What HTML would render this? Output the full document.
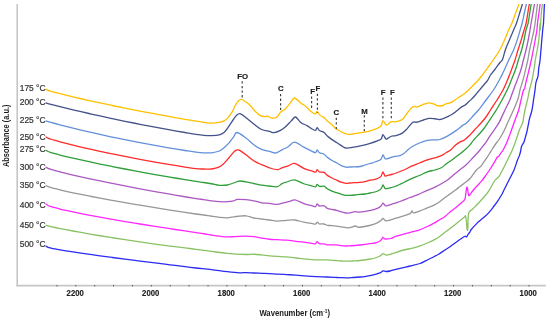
<!DOCTYPE html><html><head><meta charset="utf-8"><style>html,body{margin:0;padding:0;background:#fff;}svg{display:block;}</style></head><body>
<svg width="550" height="320" viewBox="0 0 550 320">
<rect width="550" height="320" fill="#fff"/>
<line x1="17.2" y1="4" x2="17.2" y2="286.2" stroke="#c6c6c6" stroke-width="1.6"/>
<line x1="16.4" y1="285.6" x2="546" y2="285.6" stroke="#c6c6c6" stroke-width="1.6"/>
<rect x="56.41" y="285" width="1" height="1.4" fill="#555"/><rect x="75.30" y="285" width="1" height="1.4" fill="#555"/><rect x="94.19" y="285" width="1" height="1.4" fill="#555"/><rect x="113.07" y="285" width="1" height="1.4" fill="#555"/><rect x="131.96" y="285" width="1" height="1.4" fill="#555"/><rect x="150.85" y="285" width="1" height="1.4" fill="#555"/><rect x="169.74" y="285" width="1" height="1.4" fill="#555"/><rect x="188.62" y="285" width="1" height="1.4" fill="#555"/><rect x="207.51" y="285" width="1" height="1.4" fill="#555"/><rect x="226.40" y="285" width="1" height="1.4" fill="#555"/><rect x="245.29" y="285" width="1" height="1.4" fill="#555"/><rect x="264.18" y="285" width="1" height="1.4" fill="#555"/><rect x="283.06" y="285" width="1" height="1.4" fill="#555"/><rect x="301.95" y="285" width="1" height="1.4" fill="#555"/><rect x="320.84" y="285" width="1" height="1.4" fill="#555"/><rect x="339.73" y="285" width="1" height="1.4" fill="#555"/><rect x="358.61" y="285" width="1" height="1.4" fill="#555"/><rect x="377.50" y="285" width="1" height="1.4" fill="#555"/><rect x="396.39" y="285" width="1" height="1.4" fill="#555"/><rect x="415.27" y="285" width="1" height="1.4" fill="#555"/><rect x="434.16" y="285" width="1" height="1.4" fill="#555"/><rect x="453.05" y="285" width="1" height="1.4" fill="#555"/><rect x="471.94" y="285" width="1" height="1.4" fill="#555"/><rect x="490.82" y="285" width="1" height="1.4" fill="#555"/><rect x="509.71" y="285" width="1" height="1.4" fill="#555"/><rect x="528.60" y="285" width="1" height="1.4" fill="#555"/>
<defs><clipPath id="pc"><rect x="0" y="4" width="550" height="290"/></clipPath></defs>
<g clip-path="url(#pc)" fill="none" stroke-width="1.30" stroke-linejoin="round" stroke-linecap="round">
<path d="M46.00,246.23 C46.33,246.41 47.17,246.98 48.00,247.29 C48.83,247.60 49.83,247.80 51.00,248.07 C52.17,248.34 53.50,248.62 55.00,248.92 C56.50,249.21 58.17,249.52 60.00,249.84 C61.83,250.16 63.83,250.51 66.00,250.86 C68.17,251.21 70.50,251.58 73.00,251.96 C75.50,252.34 78.17,252.75 81.00,253.16 C83.83,253.57 86.83,254.00 90.00,254.45 C93.17,254.89 96.33,255.33 100.00,255.83 C103.67,256.33 107.83,256.90 112.00,257.45 C116.17,258.00 120.33,258.54 125.00,259.15 C129.67,259.75 135.00,260.44 140.00,261.08 C145.00,261.72 150.00,262.35 155.00,262.97 C160.00,263.60 165.00,264.21 170.00,264.83 C175.00,265.45 180.67,266.14 185.00,266.67 C189.33,267.20 191.57,267.50 196.00,268.01 C200.43,268.51 206.38,269.08 211.60,269.70 C216.82,270.31 222.60,271.18 227.30,271.70 C232.00,272.22 236.68,272.65 239.80,272.80 C242.92,272.95 243.67,272.57 246.00,272.60 C248.33,272.63 251.20,272.88 253.80,273.00 C256.40,273.12 259.00,273.20 261.60,273.30 C264.20,273.40 266.78,273.47 269.40,273.60 C272.02,273.73 274.43,273.93 277.30,274.10 C280.17,274.27 283.48,274.42 286.60,274.60 C289.72,274.78 291.83,274.92 296.00,275.20 C300.17,275.48 306.38,276.00 311.60,276.30 C316.82,276.60 323.40,276.82 327.30,277.00 C331.20,277.18 332.72,277.28 335.00,277.40 C337.28,277.52 339.00,277.63 341.00,277.70 C343.00,277.77 345.00,277.83 347.00,277.80 C349.00,277.77 350.83,277.63 353.00,277.50 C355.17,277.37 357.83,277.20 360.00,277.00 C362.17,276.80 364.33,276.53 366.00,276.30 C367.67,276.07 367.67,276.18 370.00,275.60 C372.33,275.02 377.83,273.60 380.00,272.80 C382.17,272.00 382.00,271.02 383.00,270.80 C384.00,270.58 384.83,271.47 386.00,271.50 C387.17,271.53 387.67,271.53 390.00,271.00 C392.33,270.47 396.67,269.13 400.00,268.30 C403.33,267.47 406.67,266.80 410.00,266.00 C413.33,265.20 417.33,264.40 420.00,263.50 C422.67,262.60 423.92,261.60 426.00,260.60 C428.08,259.60 430.33,258.60 432.50,257.50 C434.67,256.40 436.92,255.25 439.00,254.00 C441.08,252.75 443.00,251.33 445.00,250.00 C447.00,248.67 448.92,247.46 451.00,246.00 C453.08,244.54 455.83,242.45 457.50,241.25 C459.17,240.05 459.75,239.63 461.00,238.80 C462.25,237.97 464.07,236.55 465.00,236.25 C465.93,235.95 466.10,237.29 466.60,237.00 C467.10,236.71 467.43,235.35 468.00,234.50 C468.57,233.65 469.46,232.73 470.00,231.90 C470.54,231.07 470.10,230.92 471.25,229.50 C472.40,228.08 475.27,225.02 476.90,223.40 C478.52,221.78 479.53,221.07 481.00,219.80 C482.47,218.53 484.28,217.13 485.70,215.80 C487.12,214.47 488.23,213.27 489.50,211.80 C490.77,210.33 491.97,208.75 493.30,207.00 C494.63,205.25 496.13,203.30 497.50,201.30 C498.87,199.30 500.42,196.88 501.50,195.00 C502.58,193.12 502.75,192.50 504.00,190.00 C505.25,187.50 507.33,183.33 509.00,180.00 C510.67,176.67 512.58,173.35 514.00,170.00 C515.42,166.65 516.60,162.30 517.50,159.90 C518.40,157.50 518.88,157.04 519.40,155.60 C519.92,154.16 520.23,152.81 520.60,151.25 C520.97,149.69 521.03,147.81 521.60,146.25 C522.17,144.69 523.38,143.38 524.00,141.90 C524.62,140.43 524.82,139.09 525.30,137.40 C525.78,135.71 526.38,133.94 526.90,131.75 C527.42,129.56 527.95,126.49 528.40,124.25 C528.85,122.01 529.00,120.67 529.60,118.30 C530.20,115.92 531.33,113.15 532.00,110.00 C532.67,106.85 533.18,102.11 533.60,99.40 C534.02,96.69 534.25,95.42 534.50,93.75 C534.75,92.08 534.89,91.07 535.10,89.40 C535.31,87.73 535.48,85.32 535.75,83.75 C536.02,82.18 536.46,80.83 536.70,80.00 C536.94,79.17 536.97,79.48 537.20,78.75 C537.43,78.02 537.84,77.38 538.10,75.60 C538.36,73.82 538.43,70.60 538.75,68.10 C539.07,65.60 539.49,65.28 540.00,60.60 C540.51,55.92 541.35,45.10 541.80,40.00 C542.25,34.90 542.42,32.79 542.70,30.00 C542.98,27.21 543.29,25.92 543.50,23.25 C543.71,20.58 543.79,17.12 543.94,14.00 C544.09,10.88 544.30,6.50 544.40,4.50 C544.50,2.50 544.50,2.42 544.52,2.00" stroke="#2B2BF2"/>
<path d="M46.00,225.19 C46.33,225.31 47.17,225.66 48.00,225.90 C48.83,226.14 49.83,226.36 51.00,226.62 C52.17,226.88 53.50,227.17 55.00,227.49 C56.50,227.81 58.17,228.15 60.00,228.52 C61.83,228.89 63.83,229.28 66.00,229.70 C68.17,230.11 70.50,230.55 73.00,231.01 C75.50,231.47 78.17,231.96 81.00,232.47 C83.83,232.98 86.83,233.50 90.00,234.05 C93.17,234.60 96.33,235.13 100.00,235.74 C103.67,236.35 107.83,237.03 112.00,237.69 C116.17,238.35 120.33,239.00 125.00,239.71 C129.67,240.42 135.00,241.22 140.00,241.94 C145.00,242.66 150.00,243.37 155.00,244.05 C160.00,244.74 165.00,245.40 170.00,246.05 C175.00,246.70 180.67,247.40 185.00,247.94 C189.33,248.48 191.57,248.69 196.00,249.27 C200.43,249.85 206.38,250.71 211.60,251.40 C216.82,252.09 221.57,252.88 227.30,253.40 C233.03,253.92 241.58,254.36 246.00,254.50 C250.42,254.64 251.20,254.18 253.80,254.25 C256.40,254.32 259.00,254.64 261.60,254.90 C264.20,255.16 266.78,255.55 269.40,255.80 C272.02,256.05 274.43,256.22 277.30,256.40 C280.17,256.58 283.48,256.63 286.60,256.90 C289.72,257.17 291.83,257.55 296.00,258.00 C300.17,258.45 306.38,259.28 311.60,259.60 C316.82,259.92 323.40,259.75 327.30,259.90 C331.20,260.05 332.72,260.32 335.00,260.50 C337.28,260.68 339.00,260.88 341.00,261.00 C343.00,261.12 345.00,261.20 347.00,261.20 C349.00,261.20 350.83,261.12 353.00,261.00 C355.17,260.88 357.17,260.83 360.00,260.50 C362.83,260.17 367.50,259.42 370.00,259.00 C372.50,258.58 373.33,258.50 375.00,258.00 C376.67,257.50 378.67,256.73 380.00,256.00 C381.33,255.27 382.00,253.77 383.00,253.60 C384.00,253.43 384.83,254.87 386.00,255.00 C387.17,255.13 387.03,255.23 390.00,254.40 C392.97,253.57 400.20,251.00 403.80,250.00 C407.40,249.00 409.00,249.05 411.60,248.40 C414.20,247.75 416.78,247.00 419.40,246.10 C422.02,245.20 424.70,244.12 427.30,243.00 C429.90,241.88 432.88,240.53 435.00,239.40 C437.12,238.27 438.17,237.50 440.00,236.20 C441.83,234.90 444.67,232.63 446.00,231.60 C447.33,230.57 446.40,231.23 448.00,230.00 C449.60,228.77 453.60,225.78 455.60,224.20 C457.60,222.62 458.52,221.70 460.00,220.50 C461.48,219.30 463.58,217.75 464.50,217.00 C465.42,216.25 465.17,215.17 465.50,216.00 C465.83,216.83 466.25,219.83 466.50,222.00 C466.75,224.17 466.78,227.83 467.00,229.00 C467.22,230.17 467.53,231.60 467.80,229.00 C468.07,226.40 467.82,216.70 468.60,213.40 C469.38,210.10 471.12,210.63 472.50,209.20 C473.88,207.77 475.43,206.33 476.90,204.80 C478.37,203.27 479.83,201.63 481.30,200.00 C482.77,198.37 484.33,196.70 485.70,195.00 C487.07,193.30 488.03,192.13 489.50,189.80 C490.97,187.47 493.25,182.92 494.50,181.00 C495.75,179.08 496.18,179.17 497.00,178.30 C497.82,177.43 498.48,177.18 499.40,175.80 C500.32,174.42 501.47,171.97 502.50,170.00 C503.53,168.03 504.52,166.17 505.60,164.00 C506.68,161.83 507.88,159.33 509.00,157.00 C510.12,154.67 511.30,152.32 512.30,150.00 C513.30,147.68 514.28,145.02 515.00,143.10 C515.72,141.18 515.87,140.70 516.60,138.50 C517.33,136.30 518.52,132.22 519.40,129.90 C520.28,127.58 521.28,126.08 521.90,124.60 C522.52,123.12 522.82,122.20 523.10,121.00 C523.38,119.80 523.27,119.36 523.60,117.40 C523.93,115.44 524.58,111.65 525.10,109.25 C525.62,106.85 526.23,104.88 526.70,103.00 C527.17,101.12 527.43,100.17 527.90,98.00 C528.37,95.83 528.78,93.10 529.50,90.00 C530.22,86.90 531.55,82.32 532.20,79.40 C532.85,76.48 532.98,74.90 533.40,72.50 C533.82,70.10 534.38,67.08 534.70,65.00 C535.02,62.92 534.88,62.50 535.30,60.00 C535.72,57.50 536.62,53.33 537.20,50.00 C537.78,46.67 538.32,44.46 538.80,40.00 C539.28,35.54 539.85,24.92 540.10,23.25 C540.35,21.58 540.11,31.54 540.30,30.00 C540.49,28.46 540.88,18.25 541.23,14.00 C541.58,9.75 542.15,6.50 542.40,4.50 C542.65,2.50 542.66,2.42 542.71,2.00" stroke="#8AC263"/>
<path d="M46.00,204.02 C46.33,204.26 47.17,205.06 48.00,205.48 C48.83,205.90 49.83,206.19 51.00,206.57 C52.17,206.95 53.50,207.33 55.00,207.74 C56.50,208.15 58.17,208.57 60.00,209.02 C61.83,209.47 63.83,209.94 66.00,210.42 C68.17,210.90 70.50,211.41 73.00,211.93 C75.50,212.45 78.17,213.00 81.00,213.56 C83.83,214.12 86.83,214.70 90.00,215.30 C93.17,215.90 96.33,216.49 100.00,217.15 C103.67,217.81 107.83,218.56 112.00,219.29 C116.17,220.02 120.33,220.74 125.00,221.52 C129.67,222.31 135.00,223.19 140.00,224.00 C145.00,224.81 150.00,225.61 155.00,226.40 C160.00,227.19 165.00,227.96 170.00,228.72 C175.00,229.48 180.67,230.33 185.00,230.98 C189.33,231.62 192.87,232.13 196.00,232.59 C199.13,233.05 201.20,233.35 203.80,233.75 C206.40,234.15 209.00,234.61 211.60,235.00 C214.20,235.39 216.78,235.78 219.40,236.10 C222.02,236.42 224.70,236.82 227.30,236.90 C229.90,236.98 231.88,236.73 235.00,236.60 C238.12,236.47 242.87,236.10 246.00,236.10 C249.13,236.10 251.20,236.25 253.80,236.60 C256.40,236.95 259.00,237.76 261.60,238.20 C264.20,238.64 266.78,239.00 269.40,239.25 C272.02,239.50 274.43,239.54 277.30,239.70 C280.17,239.86 283.48,239.93 286.60,240.20 C289.72,240.47 293.13,240.97 296.00,241.30 C298.87,241.63 301.20,241.85 303.80,242.20 C306.40,242.55 309.65,243.13 311.60,243.40 C313.55,243.67 314.58,244.08 315.50,243.80 C316.42,243.52 316.45,241.73 317.10,241.70 C317.75,241.67 318.23,243.23 319.40,243.60 C320.57,243.97 322.78,243.70 324.10,243.90 C325.42,244.10 325.22,244.63 327.30,244.80 C329.38,244.97 334.27,244.75 336.60,244.90 C338.93,245.05 339.73,245.52 341.30,245.70 C342.87,245.88 344.55,245.98 346.00,246.00 C347.45,246.02 348.50,245.88 350.00,245.80 C351.50,245.72 353.33,245.63 355.00,245.50 C356.67,245.37 357.50,245.32 360.00,245.00 C362.50,244.68 367.50,243.93 370.00,243.60 C372.50,243.27 373.33,243.43 375.00,243.00 C376.67,242.57 378.92,241.58 380.00,241.00 C381.08,240.42 381.00,240.10 381.50,239.50 C382.00,238.90 382.42,237.48 383.00,237.40 C383.58,237.32 384.33,238.73 385.00,239.00 C385.67,239.27 386.00,239.08 387.00,239.00 C388.00,238.92 389.67,238.90 391.00,238.50 C392.33,238.10 393.50,237.15 395.00,236.60 C396.50,236.05 398.33,235.67 400.00,235.20 C401.67,234.73 403.23,234.28 405.00,233.80 C406.77,233.32 408.37,232.87 410.60,232.30 C412.83,231.73 415.79,231.28 418.40,230.40 C421.01,229.52 423.65,228.22 426.25,227.00 C428.85,225.78 431.71,224.35 434.00,223.10 C436.29,221.85 438.17,220.60 440.00,219.50 C441.83,218.40 443.33,217.75 445.00,216.50 C446.67,215.25 448.23,213.45 450.00,212.00 C451.77,210.55 453.93,209.13 455.60,207.80 C457.27,206.47 458.52,205.33 460.00,204.00 C461.48,202.67 463.58,201.13 464.50,199.80 C465.42,198.47 465.17,197.88 465.50,196.00 C465.83,194.12 466.20,189.90 466.50,188.50 C466.80,187.10 467.05,187.02 467.30,187.60 C467.55,188.18 467.77,190.68 468.00,192.00 C468.23,193.32 468.37,195.08 468.70,195.50 C469.03,195.92 469.22,195.42 470.00,194.50 C470.78,193.58 472.23,191.42 473.40,190.00 C474.57,188.58 475.69,187.43 477.00,186.00 C478.31,184.57 479.92,182.98 481.25,181.40 C482.58,179.82 483.62,178.40 485.00,176.50 C486.38,174.60 488.17,172.00 489.50,170.00 C490.83,168.00 492.25,165.70 493.00,164.50 C493.75,163.30 493.50,163.65 494.00,162.80 C494.50,161.95 495.52,160.28 496.00,159.40 C496.48,158.52 496.44,158.03 496.90,157.50 C497.36,156.97 498.02,157.08 498.75,156.25 C499.48,155.42 500.52,153.54 501.25,152.50 C501.98,151.46 502.27,151.46 503.10,150.00 C503.93,148.54 505.47,145.42 506.25,143.75 C507.03,142.08 506.93,142.29 507.80,140.00 C508.68,137.71 510.30,133.33 511.50,130.00 C512.70,126.67 513.80,123.33 515.00,120.00 C516.20,116.67 517.70,113.33 518.70,110.00 C519.70,106.67 520.20,103.33 521.00,100.00 C521.80,96.67 522.92,91.83 523.50,90.00 C524.08,88.17 524.18,89.83 524.50,89.00 C524.82,88.17 525.07,86.50 525.40,85.00 C525.73,83.50 525.90,82.50 526.50,80.00 C527.10,77.50 528.20,73.33 529.00,70.00 C529.80,66.67 530.58,63.33 531.30,60.00 C532.02,56.67 532.65,53.33 533.30,50.00 C533.95,46.67 534.60,43.33 535.20,40.00 C535.80,36.67 536.52,32.79 536.90,30.00 C537.28,27.21 537.19,25.92 537.50,23.25 C537.81,20.58 538.35,17.12 538.78,14.00 C539.21,10.88 539.82,6.50 540.10,4.50 C540.38,2.50 540.39,2.42 540.45,2.00" stroke="#FF26FF"/>
<path d="M46.00,185.57 C46.33,185.76 47.17,186.34 48.00,186.69 C48.83,187.03 49.83,187.30 51.00,187.64 C52.17,187.98 53.50,188.33 55.00,188.71 C56.50,189.09 58.17,189.50 60.00,189.93 C61.83,190.36 63.83,190.81 66.00,191.29 C68.17,191.77 70.50,192.26 73.00,192.79 C75.50,193.31 78.17,193.87 81.00,194.44 C83.83,195.01 86.83,195.61 90.00,196.22 C93.17,196.83 96.33,197.44 100.00,198.12 C103.67,198.81 107.83,199.58 112.00,200.33 C116.17,201.08 120.33,201.82 125.00,202.63 C129.67,203.44 135.00,204.35 140.00,205.19 C145.00,206.03 150.00,206.86 155.00,207.67 C160.00,208.48 165.00,209.27 170.00,210.05 C175.00,210.83 180.67,211.70 185.00,212.36 C189.33,213.02 192.87,213.56 196.00,214.00 C199.13,214.44 201.20,214.62 203.80,215.00 C206.40,215.38 209.00,215.87 211.60,216.25 C214.20,216.63 216.78,217.04 219.40,217.30 C222.02,217.56 224.95,217.87 227.30,217.80 C229.65,217.73 231.68,217.16 233.50,216.90 C235.32,216.64 236.12,216.43 238.20,216.25 C240.28,216.07 243.40,215.51 246.00,215.80 C248.60,216.09 251.20,217.47 253.80,218.00 C256.40,218.53 259.00,218.67 261.60,219.00 C264.20,219.33 266.78,219.65 269.40,220.00 C272.02,220.35 274.43,221.05 277.30,221.10 C280.17,221.15 283.65,220.48 286.60,220.30 C289.55,220.12 292.13,219.68 295.00,220.00 C297.87,220.32 301.03,221.63 303.80,222.20 C306.57,222.77 309.65,223.10 311.60,223.40 C313.55,223.70 314.58,224.20 315.50,224.00 C316.42,223.80 316.45,222.20 317.10,222.20 C317.75,222.20 318.58,223.73 319.40,224.00 C320.22,224.27 321.22,223.80 322.00,223.80 C322.78,223.80 323.22,223.75 324.10,224.00 C324.98,224.25 325.98,225.03 327.30,225.30 C328.62,225.57 330.45,225.47 332.00,225.60 C333.55,225.73 335.05,225.88 336.60,226.10 C338.15,226.32 339.73,226.63 341.30,226.90 C342.87,227.17 344.55,227.58 346.00,227.70 C347.45,227.82 348.43,227.88 350.00,227.60 C351.57,227.32 354.07,226.07 355.40,226.00 C356.73,225.93 356.97,227.03 358.00,227.20 C359.03,227.37 359.70,227.28 361.60,227.00 C363.50,226.72 366.78,226.20 369.40,225.50 C372.02,224.80 375.37,223.63 377.30,222.80 C379.23,221.97 380.05,221.23 381.00,220.50 C381.95,219.77 382.20,218.35 383.00,218.40 C383.80,218.45 384.42,220.58 385.80,220.80 C387.18,221.02 389.60,220.15 391.30,219.70 C393.00,219.25 394.08,218.70 396.00,218.10 C397.92,217.50 400.47,216.85 402.80,216.10 C405.13,215.35 408.63,214.20 410.00,213.60 C411.37,213.00 410.63,212.97 411.00,212.50 C411.37,212.03 411.78,210.75 412.20,210.80 C412.62,210.85 412.20,212.80 413.50,212.80 C414.80,212.80 417.88,211.55 420.00,210.80 C422.12,210.05 423.92,209.23 426.25,208.30 C428.58,207.37 431.71,206.33 434.00,205.20 C436.29,204.07 438.17,202.78 440.00,201.50 C441.83,200.22 443.33,198.75 445.00,197.50 C446.67,196.25 448.25,195.25 450.00,194.00 C451.75,192.75 453.83,191.25 455.50,190.00 C457.17,188.75 458.32,187.80 460.00,186.50 C461.68,185.20 463.93,183.53 465.60,182.20 C467.27,180.87 468.18,180.53 470.00,178.50 C471.82,176.47 474.62,172.12 476.50,170.00 C478.38,167.88 479.73,167.57 481.25,165.80 C482.77,164.03 484.24,161.41 485.60,159.40 C486.96,157.39 488.25,155.53 489.40,153.75 C490.55,151.97 491.47,150.38 492.50,148.75 C493.53,147.12 494.56,145.46 495.60,144.00 C496.64,142.54 497.60,141.71 498.75,140.00 C499.90,138.29 501.36,135.83 502.50,133.75 C503.64,131.67 504.77,129.28 505.60,127.50 C506.43,125.72 506.18,126.02 507.50,123.10 C508.82,120.18 511.71,114.18 513.50,110.00 C515.29,105.82 517.17,101.33 518.25,98.00 C519.33,94.67 519.21,93.00 520.00,90.00 C520.79,87.00 522.08,83.33 523.00,80.00 C523.92,76.67 524.70,73.33 525.50,70.00 C526.30,66.67 527.12,63.33 527.80,60.00 C528.48,56.67 528.93,53.33 529.60,50.00 C530.27,46.67 531.07,43.33 531.80,40.00 C532.53,36.67 533.45,32.79 534.00,30.00 C534.55,27.21 534.73,25.92 535.10,23.25 C535.47,20.58 535.85,17.12 536.23,14.00 C536.61,10.88 537.15,6.50 537.40,4.50 C537.65,2.50 537.66,2.42 537.71,2.00" stroke="#979797"/>
<path d="M46.00,167.19 C46.33,167.39 47.17,168.00 48.00,168.37 C48.83,168.74 49.83,169.02 51.00,169.38 C52.17,169.74 53.50,170.13 55.00,170.55 C56.50,170.97 58.17,171.41 60.00,171.88 C61.83,172.35 63.83,172.85 66.00,173.38 C68.17,173.91 70.50,174.46 73.00,175.04 C75.50,175.62 78.17,176.22 81.00,176.85 C83.83,177.48 86.83,178.14 90.00,178.82 C93.17,179.50 96.33,180.18 100.00,180.94 C103.67,181.70 107.83,182.55 112.00,183.39 C116.17,184.22 120.33,185.05 125.00,185.95 C129.67,186.85 135.00,187.87 140.00,188.80 C145.00,189.73 150.00,190.65 155.00,191.55 C160.00,192.45 165.00,193.33 170.00,194.20 C175.00,195.07 180.67,196.03 185.00,196.76 C189.33,197.49 192.87,198.10 196.00,198.59 C199.13,199.08 201.20,199.31 203.80,199.70 C206.40,200.08 209.00,200.57 211.60,200.90 C214.20,201.23 216.78,201.57 219.40,201.70 C222.02,201.83 224.95,201.83 227.30,201.70 C229.65,201.57 231.82,201.28 233.50,200.90 C235.18,200.52 235.32,199.60 237.40,199.40 C239.48,199.20 243.27,199.47 246.00,199.70 C248.73,199.93 251.20,200.28 253.80,200.80 C256.40,201.32 259.00,202.37 261.60,202.80 C264.20,203.23 266.78,203.13 269.40,203.40 C272.02,203.67 274.95,204.50 277.30,204.40 C279.65,204.30 281.42,203.32 283.50,202.80 C285.58,202.28 287.88,201.78 289.80,201.30 C291.72,200.82 292.67,199.52 295.00,199.90 C297.33,200.28 301.03,202.65 303.80,203.60 C306.57,204.55 309.65,205.08 311.60,205.60 C313.55,206.12 314.58,206.97 315.50,206.70 C316.42,206.43 316.45,204.12 317.10,204.00 C317.75,203.88 318.23,205.70 319.40,206.00 C320.57,206.30 322.78,205.42 324.10,205.80 C325.42,206.18 325.98,207.70 327.30,208.30 C328.62,208.90 330.45,209.07 332.00,209.40 C333.55,209.73 335.05,209.88 336.60,210.30 C338.15,210.72 339.73,211.45 341.30,211.90 C342.87,212.35 344.55,212.85 346.00,213.00 C347.45,213.15 348.43,213.03 350.00,212.80 C351.57,212.57 354.07,211.70 355.40,211.60 C356.73,211.50 356.97,212.15 358.00,212.20 C359.03,212.25 359.70,212.17 361.60,211.90 C363.50,211.63 366.78,211.20 369.40,210.60 C372.02,210.00 375.37,209.07 377.30,208.30 C379.23,207.53 380.05,206.87 381.00,206.00 C381.95,205.13 382.20,203.12 383.00,203.10 C383.80,203.08 384.42,205.68 385.80,205.90 C387.18,206.12 389.60,204.92 391.30,204.40 C393.00,203.88 394.55,203.28 396.00,202.80 C397.45,202.32 398.55,202.02 400.00,201.50 C401.45,200.98 403.03,200.37 404.70,199.70 C406.37,199.03 407.80,198.33 410.00,197.50 C412.20,196.67 415.02,195.90 417.90,194.70 C420.78,193.50 424.45,191.55 427.30,190.30 C430.15,189.05 431.88,188.75 435.00,187.20 C438.12,185.65 443.50,182.53 446.00,181.00 C448.50,179.47 447.75,179.83 450.00,178.00 C452.25,176.17 456.83,172.17 459.50,170.00 C462.17,167.83 463.68,167.13 466.00,165.00 C468.32,162.87 471.07,159.70 473.40,157.20 C475.73,154.70 478.38,151.88 480.00,150.00 C481.62,148.12 482.06,147.25 483.10,145.90 C484.14,144.55 485.10,143.57 486.25,141.90 C487.40,140.23 488.86,137.62 490.00,135.90 C491.14,134.18 492.06,133.10 493.10,131.60 C494.14,130.10 495.20,128.52 496.25,126.90 C497.30,125.28 497.94,124.72 499.40,121.90 C500.86,119.08 503.27,113.65 505.00,110.00 C506.73,106.35 508.38,103.33 509.80,100.00 C511.22,96.67 512.22,93.43 513.50,90.00 C514.78,86.57 516.42,82.32 517.50,79.40 C518.58,76.48 519.27,74.69 520.00,72.50 C520.73,70.31 521.38,68.12 521.90,66.25 C522.42,64.38 522.42,63.96 523.10,61.25 C523.78,58.54 525.15,53.54 526.00,50.00 C526.85,46.46 527.53,43.33 528.20,40.00 C528.87,36.67 529.52,32.79 530.00,30.00 C530.48,27.21 530.64,25.92 531.10,23.25 C531.56,20.58 532.18,17.12 532.73,14.00 C533.28,10.88 534.05,6.50 534.40,4.50 C534.75,2.50 534.77,2.42 534.84,2.00" stroke="#AC58C2"/>
<path d="M46.00,150.31 C46.33,150.51 47.17,151.14 48.00,151.51 C48.83,151.88 49.83,152.16 51.00,152.53 C52.17,152.90 53.50,153.29 55.00,153.71 C56.50,154.13 58.17,154.57 60.00,155.04 C61.83,155.51 63.83,156.01 66.00,156.53 C68.17,157.05 70.50,157.60 73.00,158.18 C75.50,158.76 78.17,159.36 81.00,159.99 C83.83,160.62 86.83,161.27 90.00,161.95 C93.17,162.62 96.33,163.29 100.00,164.04 C103.67,164.79 107.83,165.64 112.00,166.47 C116.17,167.30 120.33,168.11 125.00,169.00 C129.67,169.89 135.00,170.89 140.00,171.81 C145.00,172.73 150.00,173.63 155.00,174.52 C160.00,175.41 165.00,176.28 170.00,177.13 C175.00,177.98 180.67,178.92 185.00,179.64 C189.33,180.36 192.87,180.95 196.00,181.43 C199.13,181.91 201.20,182.11 203.80,182.50 C206.40,182.89 209.00,183.28 211.60,183.75 C214.20,184.22 216.78,185.09 219.40,185.30 C222.02,185.51 224.95,185.38 227.30,185.00 C229.65,184.62 231.42,183.67 233.50,183.00 C235.58,182.33 237.72,181.18 239.80,181.00 C241.88,180.82 243.67,181.48 246.00,181.90 C248.33,182.32 251.20,182.95 253.80,183.50 C256.40,184.05 259.00,184.78 261.60,185.20 C264.20,185.62 266.78,185.75 269.40,186.00 C272.02,186.25 275.20,187.10 277.30,186.70 C279.40,186.30 280.45,184.38 282.00,183.60 C283.55,182.82 284.52,182.63 286.60,182.00 C288.68,181.37 291.63,179.51 294.50,179.80 C297.37,180.09 300.95,182.73 303.80,183.75 C306.65,184.77 309.65,185.38 311.60,185.90 C313.55,186.43 314.58,187.15 315.50,186.90 C316.42,186.65 316.45,184.48 317.10,184.40 C317.75,184.32 318.58,186.08 319.40,186.40 C320.22,186.72 321.22,186.33 322.00,186.30 C322.78,186.27 323.22,185.79 324.10,186.20 C324.98,186.61 325.98,187.93 327.30,188.75 C328.62,189.57 330.45,190.44 332.00,191.10 C333.55,191.76 335.05,192.18 336.60,192.70 C338.15,193.22 339.73,193.77 341.30,194.20 C342.87,194.63 344.55,195.10 346.00,195.30 C347.45,195.50 348.50,195.45 350.00,195.40 C351.50,195.35 353.33,195.17 355.00,195.00 C356.67,194.83 358.33,194.57 360.00,194.40 C361.67,194.23 363.33,194.23 365.00,194.00 C366.67,193.77 368.33,193.33 370.00,193.00 C371.67,192.67 373.33,192.53 375.00,192.00 C376.67,191.47 378.92,190.47 380.00,189.80 C381.08,189.13 381.00,188.80 381.50,188.00 C382.00,187.20 382.42,184.92 383.00,185.00 C383.58,185.08 384.33,187.90 385.00,188.50 C385.67,189.10 386.00,188.75 387.00,188.60 C388.00,188.45 389.67,187.95 391.00,187.60 C392.33,187.25 392.87,187.35 395.00,186.50 C397.13,185.65 401.03,183.82 403.80,182.50 C406.57,181.18 409.00,179.77 411.60,178.60 C414.20,177.43 416.78,176.62 419.40,175.50 C422.02,174.38 424.70,172.82 427.30,171.90 C429.90,170.98 432.67,170.70 435.00,170.00 C437.33,169.30 439.47,168.68 441.30,167.70 C443.13,166.72 444.55,165.17 446.00,164.10 C447.45,163.03 448.03,162.72 450.00,161.30 C451.97,159.88 455.30,157.52 457.80,155.60 C460.30,153.68 462.97,151.58 465.00,149.80 C467.03,148.02 468.60,146.48 470.00,144.90 C471.40,143.32 471.27,142.78 473.40,140.30 C475.53,137.82 480.20,133.22 482.80,130.00 C485.40,126.78 486.75,124.33 489.00,121.00 C491.25,117.67 494.13,113.50 496.30,110.00 C498.47,106.50 500.18,103.33 502.00,100.00 C503.82,96.67 505.60,93.43 507.20,90.00 C508.80,86.57 510.40,82.32 511.60,79.40 C512.80,76.48 513.57,74.69 514.40,72.50 C515.23,70.31 515.93,68.33 516.60,66.25 C517.27,64.17 517.57,62.71 518.40,60.00 C519.23,57.29 520.67,53.33 521.60,50.00 C522.53,46.67 523.27,43.33 524.00,40.00 C524.73,36.67 525.32,32.79 526.00,30.00 C526.68,27.21 527.50,25.92 528.10,23.25 C528.70,20.58 529.08,17.12 529.58,14.00 C530.08,10.88 530.78,6.50 531.10,4.50 C531.42,2.50 531.43,2.42 531.50,2.00" stroke="#2E9E3A"/>
<path d="M46.00,137.01 C46.33,137.21 47.17,137.82 48.00,138.19 C48.83,138.56 49.83,138.87 51.00,139.25 C52.17,139.63 53.50,140.03 55.00,140.47 C56.50,140.91 58.17,141.37 60.00,141.87 C61.83,142.37 63.83,142.90 66.00,143.45 C68.17,144.00 70.50,144.58 73.00,145.19 C75.50,145.80 78.17,146.44 81.00,147.10 C83.83,147.76 86.83,148.45 90.00,149.16 C93.17,149.87 96.33,150.56 100.00,151.35 C103.67,152.13 107.83,153.02 112.00,153.87 C116.17,154.72 120.33,155.56 125.00,156.47 C129.67,157.38 135.00,158.40 140.00,159.33 C145.00,160.26 150.00,161.16 155.00,162.04 C160.00,162.92 165.00,163.77 170.00,164.60 C175.00,165.43 180.67,166.34 185.00,167.03 C189.33,167.72 192.87,168.39 196.00,168.72 C199.13,169.05 201.20,168.95 203.80,169.00 C206.40,169.05 209.00,169.35 211.60,169.00 C214.20,168.65 217.33,167.83 219.40,166.90 C221.47,165.97 222.43,164.88 224.00,163.40 C225.57,161.92 227.22,159.83 228.80,158.00 C230.38,156.17 232.33,153.67 233.50,152.40 C234.67,151.13 235.05,150.82 235.80,150.40 C236.55,149.98 237.22,149.82 238.00,149.90 C238.78,149.98 239.17,150.08 240.50,150.90 C241.83,151.72 243.78,153.15 246.00,154.80 C248.22,156.45 251.20,159.15 253.80,160.80 C256.40,162.45 259.00,163.53 261.60,164.70 C264.20,165.87 266.78,166.97 269.40,167.80 C272.02,168.63 275.20,169.70 277.30,169.70 C279.40,169.70 280.18,168.43 282.00,167.80 C283.82,167.17 286.12,166.63 288.20,165.90 C290.28,165.17 291.90,163.00 294.50,163.40 C297.10,163.80 300.95,167.05 303.80,168.30 C306.65,169.55 309.65,170.25 311.60,170.90 C313.55,171.55 314.58,172.42 315.50,172.20 C316.42,171.98 316.45,169.63 317.10,169.60 C317.75,169.57 318.23,171.53 319.40,172.00 C320.57,172.47 322.78,171.83 324.10,172.40 C325.42,172.97 325.98,174.47 327.30,175.40 C328.62,176.33 330.45,177.22 332.00,178.00 C333.55,178.78 335.05,179.40 336.60,180.10 C338.15,180.80 339.73,181.67 341.30,182.20 C342.87,182.73 344.55,183.17 346.00,183.30 C347.45,183.43 348.50,183.12 350.00,183.00 C351.50,182.88 353.33,182.70 355.00,182.60 C356.67,182.50 358.33,182.57 360.00,182.40 C361.67,182.23 363.33,181.97 365.00,181.60 C366.67,181.23 368.33,180.57 370.00,180.20 C371.67,179.83 373.33,179.90 375.00,179.40 C376.67,178.90 378.92,177.85 380.00,177.20 C381.08,176.55 381.00,176.37 381.50,175.50 C382.00,174.63 382.42,171.92 383.00,172.00 C383.58,172.08 384.33,175.40 385.00,176.00 C385.67,176.60 386.00,175.85 387.00,175.60 C388.00,175.35 389.67,174.85 391.00,174.50 C392.33,174.15 392.87,174.25 395.00,173.50 C397.13,172.75 401.03,171.23 403.80,170.00 C406.57,168.77 409.00,167.27 411.60,166.10 C414.20,164.93 416.78,164.05 419.40,163.00 C422.02,161.95 424.70,160.67 427.30,159.80 C429.90,158.93 432.67,158.50 435.00,157.80 C437.33,157.10 439.47,156.43 441.30,155.60 C443.13,154.77 444.40,153.77 446.00,152.80 C447.60,151.83 449.30,151.12 450.90,149.80 C452.50,148.48 453.90,146.30 455.60,144.90 C457.30,143.50 459.80,142.12 461.10,141.40 C462.40,140.68 462.65,141.00 463.40,140.60 C464.15,140.20 464.50,139.93 465.60,139.00 C466.70,138.07 468.52,136.50 470.00,135.00 C471.48,133.50 472.62,132.03 474.50,130.00 C476.38,127.97 479.33,124.97 481.25,122.80 C483.17,120.63 484.46,119.13 486.00,117.00 C487.54,114.87 488.67,112.83 490.50,110.00 C492.33,107.17 494.92,103.33 497.00,100.00 C499.08,96.67 501.25,93.33 503.00,90.00 C504.75,86.67 506.10,83.33 507.50,80.00 C508.90,76.67 510.15,73.33 511.40,70.00 C512.65,66.67 513.90,63.33 515.00,60.00 C516.10,56.67 516.97,53.33 518.00,50.00 C519.03,46.67 520.18,43.33 521.20,40.00 C522.22,36.67 523.28,32.79 524.10,30.00 C524.92,27.21 525.51,25.92 526.10,23.25 C526.69,20.58 527.12,17.12 527.65,14.00 C528.17,10.88 528.91,6.50 529.25,4.50 C529.59,2.50 529.60,2.42 529.67,2.00" stroke="#FF2B2B"/>
<path d="M46.00,120.99 C46.33,121.09 47.17,121.36 48.00,121.60 C48.83,121.84 49.83,122.11 51.00,122.43 C52.17,122.75 53.50,123.11 55.00,123.50 C56.50,123.89 58.17,124.33 60.00,124.80 C61.83,125.27 63.83,125.79 66.00,126.34 C68.17,126.89 70.50,127.47 73.00,128.08 C75.50,128.69 78.17,129.35 81.00,130.02 C83.83,130.69 86.83,131.40 90.00,132.13 C93.17,132.86 96.33,133.59 100.00,134.41 C103.67,135.22 107.83,136.13 112.00,137.02 C116.17,137.91 120.33,138.78 125.00,139.73 C129.67,140.67 135.00,141.73 140.00,142.69 C145.00,143.65 150.00,144.56 155.00,145.46 C160.00,146.36 165.00,147.22 170.00,148.06 C175.00,148.90 180.67,149.81 185.00,150.49 C189.33,151.17 192.87,151.77 196.00,152.15 C199.13,152.53 201.20,152.69 203.80,152.80 C206.40,152.91 209.00,153.10 211.60,152.80 C214.20,152.50 217.33,151.83 219.40,151.00 C221.47,150.17 222.43,149.12 224.00,147.80 C225.57,146.48 227.60,144.40 228.80,143.10 C230.00,141.80 230.42,140.98 231.20,140.00 C231.98,139.02 232.53,138.45 233.50,137.20 C234.47,135.95 234.92,132.37 237.00,132.50 C239.08,132.63 243.20,135.97 246.00,138.00 C248.80,140.03 251.20,142.80 253.80,144.70 C256.40,146.60 259.00,148.28 261.60,149.40 C264.20,150.52 267.05,150.80 269.40,151.40 C271.75,152.00 273.60,153.27 275.70,153.00 C277.80,152.73 279.92,150.85 282.00,149.80 C284.08,148.75 286.12,147.97 288.20,146.70 C290.28,145.43 291.90,142.12 294.50,142.20 C297.10,142.28 300.95,145.72 303.80,147.20 C306.65,148.68 309.65,150.18 311.60,151.10 C313.55,152.02 314.58,152.88 315.50,152.70 C316.42,152.52 316.45,150.00 317.10,150.00 C317.75,150.00 318.23,152.00 319.40,152.70 C320.57,153.40 322.78,153.43 324.10,154.20 C325.42,154.97 325.98,156.25 327.30,157.30 C328.62,158.35 330.45,159.58 332.00,160.50 C333.55,161.42 335.05,161.95 336.60,162.80 C338.15,163.65 339.73,164.87 341.30,165.60 C342.87,166.33 344.55,166.97 346.00,167.20 C347.45,167.43 348.50,167.07 350.00,167.00 C351.50,166.93 353.33,166.88 355.00,166.80 C356.67,166.72 358.33,166.80 360.00,166.50 C361.67,166.20 363.33,165.50 365.00,165.00 C366.67,164.50 368.33,164.00 370.00,163.50 C371.67,163.00 373.33,162.58 375.00,162.00 C376.67,161.42 378.92,160.58 380.00,160.00 C381.08,159.42 381.00,159.33 381.50,158.50 C382.00,157.67 382.42,154.98 383.00,155.00 C383.58,155.02 384.33,157.97 385.00,158.60 C385.67,159.23 386.00,159.02 387.00,158.80 C388.00,158.58 389.67,157.72 391.00,157.30 C392.33,156.88 393.50,156.58 395.00,156.30 C396.50,156.02 398.53,156.05 400.00,155.60 C401.47,155.15 402.52,154.55 403.80,153.60 C405.08,152.65 406.40,151.00 407.70,149.90 C409.00,148.80 409.65,148.15 411.60,147.00 C413.55,145.85 416.78,144.12 419.40,143.00 C422.02,141.88 424.70,140.83 427.30,140.30 C429.90,139.77 432.88,139.93 435.00,139.80 C437.12,139.67 437.87,140.15 440.00,139.50 C442.13,138.85 445.20,137.33 447.80,135.90 C450.40,134.47 453.12,132.65 455.60,130.90 C458.08,129.15 461.03,126.58 462.70,125.40 C464.37,124.22 464.55,124.62 465.60,123.80 C466.65,122.98 467.70,121.88 469.00,120.50 C470.30,119.12 471.82,117.25 473.40,115.50 C474.98,113.75 476.40,112.58 478.50,110.00 C480.60,107.42 483.50,103.33 486.00,100.00 C488.50,96.67 491.17,93.54 493.50,90.00 C495.83,86.46 498.40,81.67 500.00,78.75 C501.60,75.83 502.06,74.69 503.10,72.50 C504.14,70.31 505.31,67.68 506.25,65.60 C507.19,63.52 507.52,62.60 508.75,60.00 C509.98,57.40 512.19,53.33 513.60,50.00 C515.01,46.67 516.10,43.33 517.20,40.00 C518.30,36.67 519.38,32.79 520.20,30.00 C521.02,27.21 521.44,25.92 522.10,23.25 C522.76,20.58 523.46,17.12 524.15,14.00 C524.84,10.88 525.81,6.50 526.25,4.50 C526.69,2.50 526.71,2.42 526.80,2.00" stroke="#6390DA"/>
<path d="M46.00,102.98 C46.33,103.08 47.17,103.36 48.00,103.60 C48.83,103.84 49.83,104.09 51.00,104.40 C52.17,104.71 53.50,105.05 55.00,105.43 C56.50,105.81 58.17,106.23 60.00,106.68 C61.83,107.13 63.83,107.62 66.00,108.15 C68.17,108.68 70.50,109.24 73.00,109.83 C75.50,110.42 78.17,111.05 81.00,111.70 C83.83,112.35 86.83,113.04 90.00,113.75 C93.17,114.46 96.33,115.18 100.00,115.98 C103.67,116.78 107.83,117.68 112.00,118.56 C116.17,119.44 120.33,120.32 125.00,121.27 C129.67,122.22 135.00,123.29 140.00,124.27 C145.00,125.25 150.00,126.20 155.00,127.14 C160.00,128.07 165.00,128.99 170.00,129.88 C175.00,130.77 180.67,131.76 185.00,132.50 C189.33,133.24 192.87,133.86 196.00,134.33 C199.13,134.80 201.20,135.09 203.80,135.30 C206.40,135.51 209.00,135.68 211.60,135.60 C214.20,135.52 217.33,135.32 219.40,134.80 C221.47,134.28 222.68,133.53 224.00,132.50 C225.32,131.47 225.97,130.42 227.30,128.60 C228.63,126.78 230.45,123.82 232.00,121.60 C233.55,119.38 235.18,116.60 236.60,115.30 C238.02,114.00 238.93,113.40 240.50,113.80 C242.07,114.20 243.78,116.00 246.00,117.70 C248.22,119.40 251.20,122.03 253.80,124.00 C256.40,125.97 259.00,128.27 261.60,129.50 C264.20,130.73 267.32,130.88 269.40,131.40 C271.48,131.92 272.27,132.78 274.10,132.60 C275.93,132.42 278.58,131.20 280.40,130.30 C282.22,129.40 283.18,128.77 285.00,127.20 C286.82,125.63 289.55,122.60 291.30,120.90 C293.05,119.20 293.93,116.73 295.50,117.00 C297.07,117.27 298.78,121.07 300.70,122.50 C302.62,123.93 305.18,124.57 307.00,125.60 C308.82,126.63 310.18,127.92 311.60,128.70 C313.02,129.48 314.58,130.48 315.50,130.30 C316.42,130.12 316.45,127.57 317.10,127.60 C317.75,127.63 318.23,129.68 319.40,130.50 C320.57,131.32 322.78,131.58 324.10,132.50 C325.42,133.42 325.98,134.82 327.30,136.00 C328.62,137.18 330.45,138.52 332.00,139.60 C333.55,140.68 335.05,141.50 336.60,142.50 C338.15,143.50 339.73,144.68 341.30,145.60 C342.87,146.52 343.92,147.73 346.00,148.00 C348.08,148.27 351.20,147.60 353.80,147.20 C356.40,146.80 359.00,146.20 361.60,145.60 C364.20,145.00 366.78,144.38 369.40,143.60 C372.02,142.82 375.33,141.68 377.30,140.90 C379.27,140.12 380.25,139.93 381.20,138.90 C382.15,137.87 382.23,134.70 383.00,134.70 C383.77,134.70 384.97,138.32 385.80,138.90 C386.63,139.48 387.08,138.64 388.00,138.20 C388.92,137.76 389.97,136.68 391.30,136.25 C392.63,135.82 394.17,136.12 396.00,135.60 C397.83,135.07 400.47,134.22 402.30,133.10 C404.13,131.98 405.45,130.52 407.00,128.90 C408.55,127.28 410.43,124.57 411.60,123.40 C412.77,122.23 413.08,122.10 414.00,121.90 C414.92,121.70 415.67,122.47 417.10,122.20 C418.53,121.93 420.65,120.93 422.60,120.30 C424.55,119.67 426.73,118.66 428.80,118.40 C430.87,118.14 433.17,118.57 435.00,118.75 C436.83,118.93 437.97,119.72 439.80,119.50 C441.63,119.28 444.45,118.00 446.00,117.40 C447.55,116.80 448.05,116.43 449.10,115.90 C450.15,115.38 451.25,114.92 452.30,114.25 C453.35,113.58 454.37,112.71 455.40,111.90 C456.43,111.09 457.47,110.23 458.50,109.40 C459.53,108.57 460.55,107.58 461.60,106.90 C462.65,106.22 463.75,106.03 464.80,105.30 C465.85,104.57 466.82,103.48 467.90,102.50 C468.98,101.52 470.05,100.65 471.30,99.40 C472.55,98.15 474.20,96.36 475.40,95.00 C476.60,93.64 477.47,92.50 478.50,91.25 C479.53,90.00 480.55,88.75 481.60,87.50 C482.65,86.25 483.80,84.95 484.80,83.75 C485.80,82.55 486.65,81.76 487.60,80.30 C488.55,78.84 489.35,76.72 490.50,75.00 C491.65,73.28 492.92,72.08 494.50,70.00 C496.08,67.92 498.67,64.25 500.00,62.50 C501.33,60.75 501.62,61.58 502.50,59.50 C503.38,57.42 504.15,53.25 505.30,50.00 C506.45,46.75 508.02,43.33 509.40,40.00 C510.78,36.67 512.42,32.79 513.60,30.00 C514.78,27.21 515.54,25.92 516.50,23.25 C517.46,20.58 518.39,17.12 519.36,14.00 C520.33,10.88 521.68,6.50 522.30,4.50 C522.92,2.50 522.94,2.42 523.07,2.00" stroke="#43528A"/>
<path d="M46.00,89.20 C46.33,89.38 47.17,89.94 48.00,90.28 C48.83,90.62 49.83,90.91 51.00,91.26 C52.17,91.62 53.50,92.00 55.00,92.41 C56.50,92.82 58.17,93.26 60.00,93.73 C61.83,94.20 63.83,94.70 66.00,95.23 C68.17,95.76 70.50,96.32 73.00,96.91 C75.50,97.50 78.17,98.11 81.00,98.75 C83.83,99.39 86.83,100.06 90.00,100.76 C93.17,101.46 96.33,102.14 100.00,102.92 C103.67,103.70 107.83,104.58 112.00,105.44 C116.17,106.30 120.33,107.15 125.00,108.08 C129.67,109.01 135.00,110.06 140.00,111.03 C145.00,112.00 150.00,112.94 155.00,113.88 C160.00,114.82 165.00,115.74 170.00,116.65 C175.00,117.56 180.67,118.56 185.00,119.32 C189.33,120.08 192.87,120.73 196.00,121.23 C199.13,121.73 201.20,121.99 203.80,122.30 C206.40,122.61 209.00,123.10 211.60,123.10 C214.20,123.10 217.33,122.68 219.40,122.30 C221.47,121.92 222.68,121.45 224.00,120.80 C225.32,120.15 225.97,119.83 227.30,118.40 C228.63,116.97 230.72,114.27 232.00,112.20 C233.28,110.13 233.97,107.82 235.00,106.00 C236.03,104.18 237.15,102.40 238.20,101.30 C239.25,100.20 240.00,99.28 241.30,99.40 C242.60,99.52 244.43,100.90 246.00,102.00 C247.57,103.10 249.13,104.42 250.70,106.00 C252.27,107.58 253.85,109.93 255.40,111.50 C256.95,113.07 258.43,114.53 260.00,115.40 C261.57,116.27 263.55,116.60 264.80,116.70 C266.05,116.80 266.73,115.95 267.50,116.00 C268.27,116.05 268.43,116.63 269.40,117.00 C270.37,117.37 271.98,118.25 273.30,118.20 C274.62,118.15 276.07,117.73 277.30,116.70 C278.53,115.67 279.42,113.25 280.70,112.00 C281.98,110.75 283.48,110.58 285.00,109.20 C286.52,107.82 288.23,105.57 289.80,103.70 C291.37,101.83 292.58,98.12 294.40,98.00 C296.22,97.88 298.87,101.67 300.70,103.00 C302.53,104.33 303.58,104.50 305.40,106.00 C307.22,107.50 309.92,110.68 311.60,112.00 C313.28,113.32 314.58,113.98 315.50,113.90 C316.42,113.82 316.45,111.38 317.10,111.50 C317.75,111.62 318.50,113.72 319.40,114.60 C320.30,115.48 321.72,116.33 322.50,116.80 C323.28,117.27 323.30,116.72 324.10,117.40 C324.90,118.08 325.98,119.67 327.30,120.90 C328.62,122.13 330.58,123.53 332.00,124.80 C333.42,126.07 334.50,127.47 335.80,128.50 C337.10,129.53 338.10,130.10 339.80,131.00 C341.50,131.90 344.30,133.35 346.00,133.90 C347.70,134.45 348.70,134.33 350.00,134.30 C351.30,134.28 351.87,134.02 353.80,133.75 C355.73,133.48 359.00,133.14 361.60,132.70 C364.20,132.26 366.78,131.82 369.40,131.10 C372.02,130.38 375.33,129.32 377.30,128.40 C379.27,127.48 380.25,126.90 381.20,125.60 C382.15,124.30 382.23,120.73 383.00,120.60 C383.77,120.47 384.97,124.20 385.80,124.80 C386.63,125.40 387.08,124.72 388.00,124.20 C388.92,123.68 389.97,122.12 391.30,121.70 C392.63,121.28 394.17,122.07 396.00,121.70 C397.83,121.33 400.47,120.90 402.30,119.50 C404.13,118.10 405.45,115.25 407.00,113.30 C408.55,111.35 410.43,108.97 411.60,107.80 C412.77,106.63 413.08,106.43 414.00,106.30 C414.92,106.17 415.67,107.27 417.10,107.00 C418.53,106.73 420.65,105.40 422.60,104.70 C424.55,104.00 426.98,102.93 428.80,102.80 C430.62,102.67 431.93,103.38 433.50,103.90 C435.07,104.42 436.63,105.63 438.20,105.90 C439.77,106.17 441.60,105.86 442.90,105.50 C444.20,105.14 444.97,104.15 446.00,103.75 C447.03,103.35 448.05,103.41 449.10,103.10 C450.15,102.79 451.35,102.42 452.30,101.90 C453.25,101.38 453.68,100.77 454.80,100.00 C455.92,99.23 457.47,98.30 459.00,97.30 C460.53,96.30 462.42,95.22 464.00,94.00 C465.58,92.78 467.00,91.42 468.50,90.00 C470.00,88.58 471.50,87.00 473.00,85.50 C474.50,84.00 476.00,82.67 477.50,81.00 C479.00,79.33 480.58,77.33 482.00,75.50 C483.42,73.67 484.67,71.83 486.00,70.00 C487.33,68.17 488.75,66.25 490.00,64.50 C491.25,62.75 491.87,61.92 493.50,59.50 C495.13,57.08 497.97,53.25 499.80,50.00 C501.63,46.75 503.03,43.33 504.50,40.00 C505.97,36.67 507.37,32.79 508.60,30.00 C509.83,27.21 510.79,25.92 511.90,23.25 C513.01,20.58 514.14,17.12 515.28,14.00 C516.42,10.88 518.02,6.50 518.75,4.50 C519.48,2.50 519.51,2.42 519.66,2.00" stroke="#FFC000"/>
</g>
<line x1="242.2" y1="81.3" x2="242.2" y2="98" stroke="#3c3c3c" stroke-width="1.15" stroke-dasharray="2.3,2.3"/>
<line x1="280.6" y1="94" x2="280.6" y2="111.7" stroke="#3c3c3c" stroke-width="1.15" stroke-dasharray="2.3,2.3"/>
<line x1="311.6" y1="96.4" x2="311.6" y2="108.6" stroke="#3c3c3c" stroke-width="1.15" stroke-dasharray="2.3,2.3"/>
<line x1="317.4" y1="93.7" x2="317.4" y2="112.8" stroke="#3c3c3c" stroke-width="1.15" stroke-dasharray="2.3,2.3"/>
<line x1="336.3" y1="117.7" x2="336.3" y2="129.1" stroke="#3c3c3c" stroke-width="1.15" stroke-dasharray="2.3,2.3"/>
<line x1="364.3" y1="115.3" x2="364.3" y2="131.3" stroke="#3c3c3c" stroke-width="1.15" stroke-dasharray="2.3,2.3"/>
<line x1="382.9" y1="97.5" x2="382.9" y2="119.6" stroke="#3c3c3c" stroke-width="1.15" stroke-dasharray="2.3,2.3"/>
<line x1="391.3" y1="97.5" x2="391.3" y2="120.4" stroke="#3c3c3c" stroke-width="1.15" stroke-dasharray="2.3,2.3"/>
<g font-family="Liberation Sans, Arial, sans-serif" font-weight="bold" font-size="7.8" fill="#1a1a1a" stroke="#1a1a1a" stroke-width="0.15" text-anchor="middle">
<text x="242.6" y="78.6">FO</text>
<text x="280.8" y="91.4">C</text>
<text x="312.6" y="94.1">F</text>
<text x="318" y="90.8">F</text>
<text x="336.4" y="115.2">C</text>
<text x="364.5" y="114.2">M</text>
<text x="383.1" y="95.2">F</text>
<text x="392.5" y="95.2">F</text>
</g>
<g font-family="Liberation Sans, Arial, sans-serif" font-size="8.45" fill="#333" stroke="#333" stroke-width="0.2" text-anchor="end">
<text x="45.6" y="91.2">175 °C</text>
<text x="45.6" y="104.5">200 °C</text>
<text x="45.6" y="122.7">225 °C</text>
<text x="45.6" y="139.5">250 °C</text>
<text x="45.6" y="152.1">275 °C</text>
<text x="45.6" y="169.9">300 °C</text>
<text x="45.6" y="187.7">350 °C</text>
<text x="45.6" y="208.3">400 °C</text>
<text x="45.6" y="228.4">450 °C</text>
<text x="45.6" y="247.1">500 °C</text>
</g>
<g font-family="Liberation Sans, Arial, sans-serif" font-weight="bold" font-size="8.8" fill="#222" stroke="#222" stroke-width="0.15" text-anchor="middle">
<text x="75.2" y="295.8" textLength="17.2" lengthAdjust="spacingAndGlyphs">2200</text>
<text x="150.7" y="295.8" textLength="17.2" lengthAdjust="spacingAndGlyphs">2000</text>
<text x="226.2" y="295.8" textLength="17.2" lengthAdjust="spacingAndGlyphs">1800</text>
<text x="301.7" y="295.8" textLength="17.2" lengthAdjust="spacingAndGlyphs">1600</text>
<text x="377.2" y="295.8" textLength="17.2" lengthAdjust="spacingAndGlyphs">1400</text>
<text x="452.7" y="295.8" textLength="17.2" lengthAdjust="spacingAndGlyphs">1200</text>
<text x="528.2" y="295.8" textLength="17.2" lengthAdjust="spacingAndGlyphs">1000</text>
</g>
<text x="259.4" y="315.8" font-family="Liberation Sans, Arial, sans-serif" font-weight="bold" font-size="8.4" fill="#1a1a1a" textLength="70.6" lengthAdjust="spacingAndGlyphs">Wavenumber (cm<tspan font-size="5.2" dy="-2.9">-1</tspan><tspan dy="2.9">)</tspan></text>
<text transform="translate(8.6,135.8) rotate(-90)" font-family="Liberation Sans, Arial, sans-serif" font-weight="bold" font-size="8.3" fill="#1a1a1a" text-anchor="middle" textLength="62.5" lengthAdjust="spacingAndGlyphs">Absorbance (a.u.)</text>
</svg></body></html>
